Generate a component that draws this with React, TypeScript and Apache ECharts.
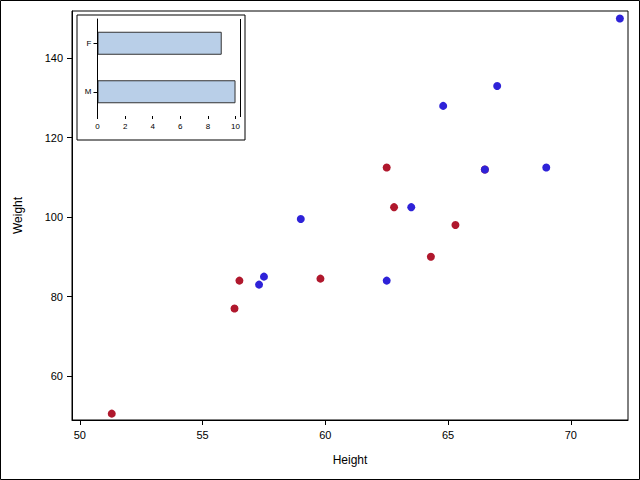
import React, { useEffect, useRef } from "react";
import * as echarts from "echarts";

const femaleHeight = [56.5, 65.3, 62.8, 59.8, 62.5, 51.3, 64.3, 56.3, 66.5];
const femaleWeight = [84.0, 98.0, 102.5, 84.5, 112.5, 50.5, 90.0, 77.0, 112.0];
const maleHeight = [69.0, 63.5, 57.3, 62.5, 59.0, 72.0, 64.8, 67.0, 57.5, 66.5];
const maleWeight = [112.5, 102.5, 83.0, 84.0, 99.5, 150.0, 128.0, 133.0, 85.0, 112.0];
const xTicks = [50, 55, 60, 65, 70];
const yTicks = [60, 80, 100, 120, 140];
const sexCategories = ["M", "F"];
const sexCounts = [10, 9];
const insetTicks = [0, 2, 4, 6, 8, 10];

const FONT = "Liberation Sans, Arial, sans-serif";

export default function App() {
  const ref = useRef<HTMLDivElement>(null);
  useEffect(() => {
    const chart = echarts.init(ref.current!, null, { renderer: "svg" });
    const fData = femaleHeight.map((h, i) => [h, femaleWeight[i]]);
    const mData = maleHeight.map((h, i) => [h, maleWeight[i]]);
    chart.setOption({
      animation: false,
      backgroundColor: "#fff",
      textStyle: { fontFamily: FONT },
      grid: [
        { left: 72, top: 11, width: 556, height: 409, show: true, borderColor: "#000", borderWidth: 1, z: 3 },
        { left: 97.5, top: 19, width: 143, height: 97 },
      ],
      xAxis: [
        {
          gridIndex: 0,
          type: "value",
          min: 49.68,
          max: 72.33,
          axisLine: { show: true, lineStyle: { color: "#000" } },
          axisTick: { show: true, length: 5, customValues: xTicks, lineStyle: { color: "#000" } },
          axisLabel: { customValues: xTicks, color: "#000", fontSize: 11, margin: 9, fontFamily: FONT },
          splitLine: { show: false },
          name: "Height",
          nameLocation: "middle",
          nameGap: 34,
          nameTextStyle: { color: "#000", fontSize: 12, fontFamily: FONT },
        },
        {
          gridIndex: 1,
          type: "value",
          z: 10,
          min: 0,
          max: 10.36,
          axisLine: { show: false },
          axisTick: { show: true, length: 3, customValues: insetTicks, lineStyle: { color: "#000" } },
          axisLabel: { customValues: insetTicks, color: "#000", fontSize: 8, margin: 6, fontFamily: FONT },
          splitLine: { show: false },
        },
      ],
      yAxis: [
        {
          gridIndex: 0,
          type: "value",
          min: 48.9,
          max: 151.9,
          axisLine: { show: true, lineStyle: { color: "#000" } },
          axisTick: { show: true, length: 5, customValues: yTicks, lineStyle: { color: "#000" } },
          axisLabel: { customValues: yTicks, color: "#000", fontSize: 11, margin: 9, fontFamily: FONT },
          splitLine: { show: false },
          name: "Weight",
          nameLocation: "middle",
          nameGap: 48,
          nameTextStyle: { color: "#000", fontSize: 12, fontFamily: FONT },
        },
        {
          gridIndex: 1,
          type: "category",
          z: 10,
          data: sexCategories,
          axisLine: { show: true, lineStyle: { color: "#000" } },
          axisTick: { show: true, length: 4, alignWithLabel: true, lineStyle: { color: "#000" } },
          axisLabel: { color: "#000", fontSize: 8, margin: 6, fontFamily: FONT },
          splitLine: { show: false },
        },
      ],
      graphic: [
        {
          type: "rect",
          z: 1,
          shape: { x: 77, y: 15, width: 168, height: 125 },
          style: { fill: "#fff", stroke: "#000", lineWidth: 1 },
        },
        {
          type: "line",
          z: 2,
          shape: { x1: 240.5, y1: 19, x2: 240.5, y2: 117 },
          style: { stroke: "#000", lineWidth: 1 },
        },
        {
          type: "rect",
          z: 100,
          shape: { x: 0.5, y: 0.5, width: 639, height: 479 },
          style: { fill: "none", stroke: "#000", lineWidth: 1 },
        },
      ],
      series: [
        {
          type: "scatter",
          xAxisIndex: 0,
          yAxisIndex: 0,
          data: fData,
          symbolSize: 8,
          itemStyle: { color: "#b0182d", opacity: 1 },
          z: 5,
        },
        {
          type: "scatter",
          xAxisIndex: 0,
          yAxisIndex: 0,
          data: mData,
          symbolSize: 8,
          itemStyle: { color: "#2e22d8", opacity: 1 },
          z: 6,
        },
        {
          type: "bar",
          xAxisIndex: 1,
          yAxisIndex: 1,
          data: sexCounts,
          barWidth: 23,
          itemStyle: { color: "#b9cfe8", borderColor: "#333", borderWidth: 1 },
          z: 5,
        },
      ],
    });
    return () => chart.dispose();
  }, []);
  return (
    <div
      ref={ref}
      style={{ position: "fixed", left: 0, top: 0, width: 640, height: 480 }}
    />
  );
}
